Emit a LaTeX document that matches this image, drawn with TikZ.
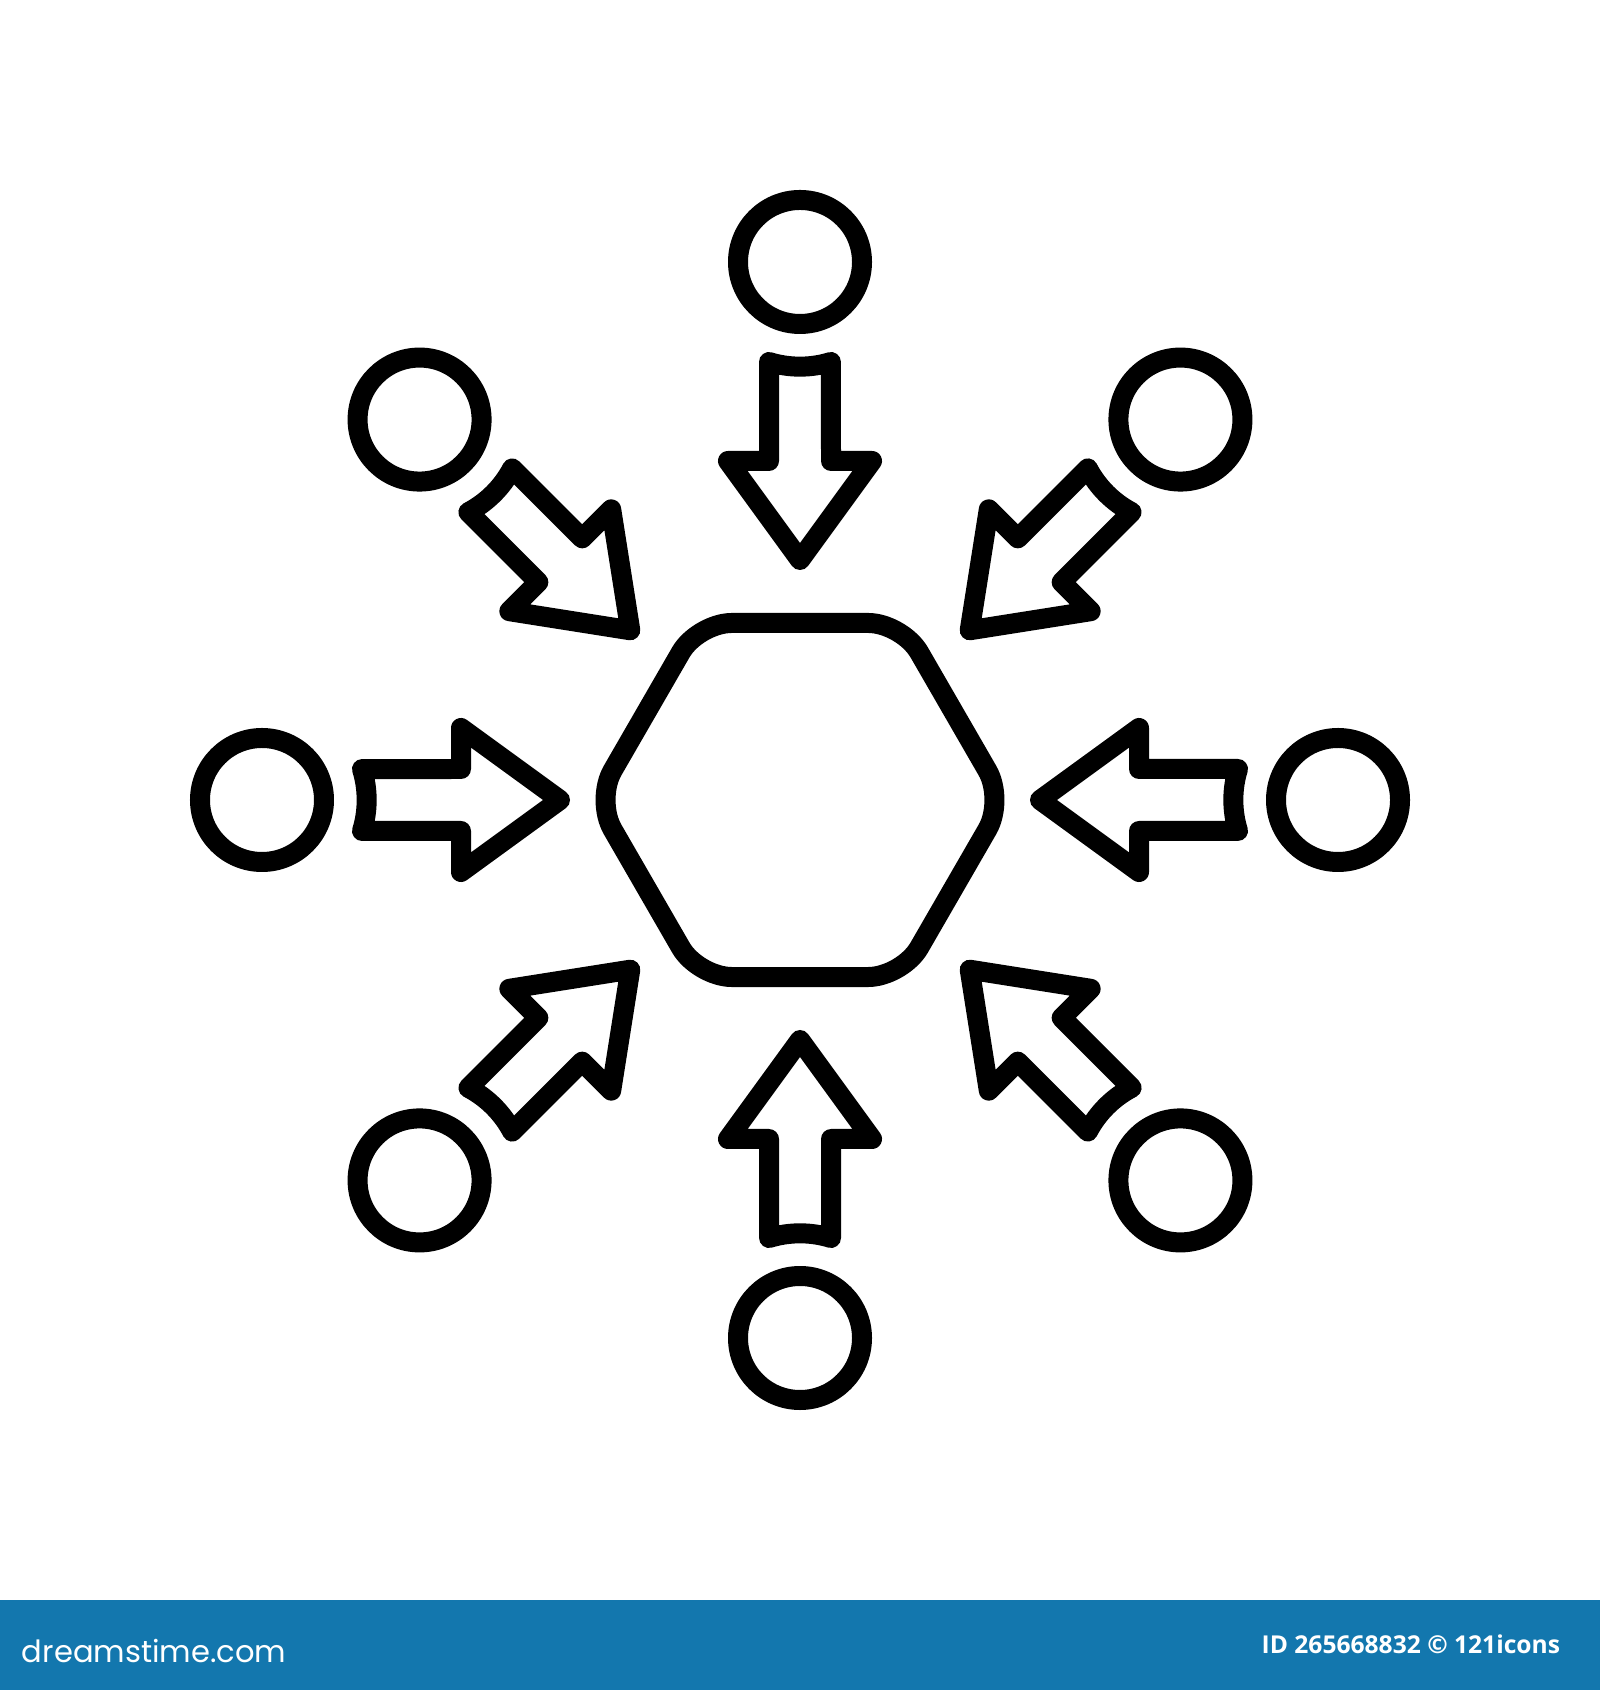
\documentclass[tikz,border=0pt]{standalone}
\usepackage{fontspec}
\newfontfamily\logofont{Poppins}
\newfontfamily\idfont{Open Sans}
\definecolor{barblue}{RGB}{19,119,174}

\begin{document}
\begin{tikzpicture}[line width=0.2cm, line join=round,
  dot/.style={circle, draw, inner sep=0pt, minimum size=1.24cm},
  barlabel/.style={text=white, inner sep=0pt}]
\fill[white] (-8,-8.9) rectangle (8,8);
\fill[barblue] (-8,-8.9) rectangle (8,-8);
\draw[rounded corners=0.34cm] (0,1.77) -- (120:2.044) -- (180:2.044) -- (240:2.044)
  -- (300:2.044) -- (0:2.044) -- (60:2.044) -- cycle;
\foreach \a in {0,45,...,315} {
  \node[dot] (c\a) at (\a:5.38) {};
  \begin{scope}[rotate=\a]
    \draw (4.38,0.31) arc[start angle=162.8, end angle=197.2, radius=1.047]
      -- (3.39,-0.31) -- (3.39,-0.72) -- (2.40,0) -- (3.39,0.72) -- (3.39,0.31) -- cycle;
  \end{scope}
}
\node[barlabel, anchor=base west, font=\logofont\fontsize{8.7}{9}\selectfont] (logo) at (-7.88,-8.62) {dreamstime.com};
\node[barlabel, anchor=base east, font=\idfont\bfseries\fontsize{7}{7}\selectfont] (stockid) at (7.70,-8.53) {ID 265668832 © 121icons};
\end{tikzpicture}
\end{document}
